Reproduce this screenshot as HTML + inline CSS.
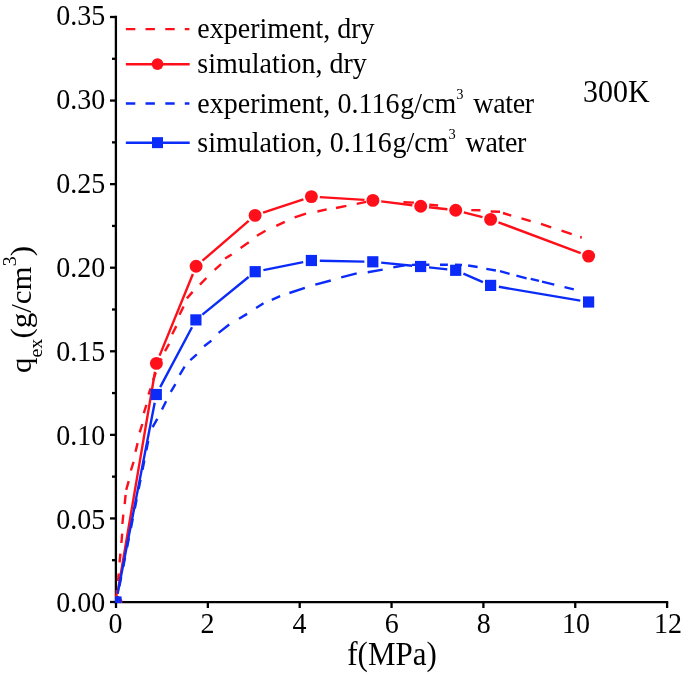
<!DOCTYPE html><html><head><meta charset="utf-8"><title>Excess adsorption 300K</title><style>html,body{margin:0;padding:0;background:#fff}svg{display:block}text{font-family:"Liberation Serif",serif;fill:#000}</style></head><body>
<svg width="683" height="675" viewBox="0 0 683 675">
<rect width="683" height="675" fill="#fff"/>
<defs><clipPath id="plot"><rect x="115" y="10" width="556" height="593"/></clipPath></defs>
<g stroke="#000" stroke-width="2.3" fill="none">
<line x1="115.9" y1="15.85" x2="115.9" y2="603.15"/>
<line x1="114.75" y1="602.05" x2="668.2" y2="602.05" stroke-width="2.2"/>
<line x1="110" y1="602.00" x2="116" y2="602.00"/>
<line x1="112" y1="560.21" x2="116" y2="560.21"/>
<line x1="110" y1="518.43" x2="116" y2="518.43"/>
<line x1="112" y1="476.64" x2="116" y2="476.64"/>
<line x1="110" y1="434.86" x2="116" y2="434.86"/>
<line x1="112" y1="393.07" x2="116" y2="393.07"/>
<line x1="110" y1="351.29" x2="116" y2="351.29"/>
<line x1="112" y1="309.50" x2="116" y2="309.50"/>
<line x1="110" y1="267.71" x2="116" y2="267.71"/>
<line x1="112" y1="225.93" x2="116" y2="225.93"/>
<line x1="110" y1="184.14" x2="116" y2="184.14"/>
<line x1="112" y1="142.36" x2="116" y2="142.36"/>
<line x1="110" y1="100.57" x2="116" y2="100.57"/>
<line x1="112" y1="58.79" x2="116" y2="58.79"/>
<line x1="110" y1="17.00" x2="116" y2="17.00"/>
<line x1="116.00" y1="602" x2="116.00" y2="608"/>
<line x1="207.85" y1="602" x2="207.85" y2="608"/>
<line x1="299.70" y1="602" x2="299.70" y2="608"/>
<line x1="391.55" y1="602" x2="391.55" y2="608"/>
<line x1="483.40" y1="602" x2="483.40" y2="608"/>
<line x1="575.25" y1="602" x2="575.25" y2="608"/>
<line x1="667.10" y1="602" x2="667.10" y2="608"/>
</g>
<text transform="translate(105.20,612.35) scale(1,1.087)" font-size="28" text-anchor="end">0.00</text>
<text transform="translate(105.20,528.51) scale(1,1.087)" font-size="28" text-anchor="end">0.05</text>
<text transform="translate(105.20,444.67) scale(1,1.087)" font-size="28" text-anchor="end">0.10</text>
<text transform="translate(105.20,360.83) scale(1,1.087)" font-size="28" text-anchor="end">0.15</text>
<text transform="translate(105.20,276.99) scale(1,1.087)" font-size="28" text-anchor="end">0.20</text>
<text transform="translate(105.20,193.15) scale(1,1.087)" font-size="28" text-anchor="end">0.25</text>
<text transform="translate(105.20,109.31) scale(1,1.087)" font-size="28" text-anchor="end">0.30</text>
<text transform="translate(105.20,25.47) scale(1,1.087)" font-size="28" text-anchor="end">0.35</text>
<text transform="translate(115.40,633.30) scale(1,1.087)" font-size="28" text-anchor="middle">0</text>
<text transform="translate(207.50,633.30) scale(1,1.087)" font-size="28" text-anchor="middle">2</text>
<text transform="translate(299.60,633.30) scale(1,1.087)" font-size="28" text-anchor="middle">4</text>
<text transform="translate(391.70,633.30) scale(1,1.087)" font-size="28" text-anchor="middle">6</text>
<text transform="translate(483.80,633.30) scale(1,1.087)" font-size="28" text-anchor="middle">8</text>
<text transform="translate(575.90,633.30) scale(1,1.087)" font-size="28" text-anchor="middle">10</text>
<text transform="translate(668.00,633.30) scale(1,1.087)" font-size="28" text-anchor="middle">12</text>
<text transform="translate(392.00,664.90) scale(1,1.087)" font-size="31" text-anchor="middle">f(MPa)</text>
<text transform="translate(31.2,309.5) rotate(-90) scale(1,0.975)" font-size="31" text-anchor="middle">q<tspan font-size="20" dy="11.5">ex</tspan><tspan dy="-11.5" font-size="31">(g/cm</tspan><tspan font-size="20" dy="-15.4">3</tspan><tspan dy="15.4" font-size="31">)</tspan></text>
<text transform="translate(583.00,101.50) scale(1,1.087)" font-size="30" text-anchor="start">300K</text>
<g clip-path="url(#plot)">
<g stroke="#fe0f1a" stroke-width="2.4" fill="none">
<path d="M116.0 602.0L116.9 590.0 M118.0 581.0L118.7 573.5 M119.6 562.3L120.4 553.6 M121.4 543.0L122.2 533.7 M122.4 524.0L123.3 514.7 M124.7 504.1L125.6 494.8 M126.2 489.8L128.7 481.1 M130.9 470.5L133.6 461.8 M135.5 451.8L137.6 443.1 M139.7 432.3L142.3 424.0 M143.8 413.2L146.4 404.9 M148.5 394.5L150.6 388.3 M153.0 380.5L155.8 372.5 M158.5 365.5L161.5 358.5 M165.0 351.2L169.1 343.8 M172.2 334.2L176.3 326.1 M179.5 314.7L183.6 306.5 M186.9 298.4L192.6 291.9 M199.9 284.6L206.4 278.0 M214.6 269.9L221.1 264.2 M225.1 258.5L231.7 254.4 M240.6 247.9L248.8 242.2 M256.9 235.7L265.5 230.8 M276.3 225.8L284.8 221.8 M294.6 217.3L306.0 213.6 M317.4 211.5L326.7 209.4 M336.0 208.0L346.4 205.9 M356.7 203.8L366.1 201.8 M403.4 202.3L413.9 202.6 M429.3 204.8L438.1 205.5 M471.3 210.1L480.5 210.3 M490.7 211.5L500.0 211.8 M503.0 213.0L511.2 215.6 M521.5 218.3L530.7 221.2 M541.0 223.8L551.2 227.3 M561.5 230.6L571.7 234.1 M580.1 237.2L581.9 237.4"/>
</g>
<g stroke="#fe0f1a" stroke-width="2.4" fill="none">
<path d="M117.4 593.7L155.0 371.7 M159.6 355.6L192.9 274.0 M202.5 260.7L248.7 220.9 M263.1 212.7L303.4 199.3 M319.8 197.1L364.5 199.9 M381.2 201.4L412.4 205.3 M429.0 207.2L447.4 209.2 M463.8 212.3L482.5 217.2 M498.5 222.3L580.7 253.2"/>
</g>
<g fill="#fe0f1a" stroke="none">
<circle cx="116.0" cy="602.0" r="6.45"/>
<circle cx="156.4" cy="363.4" r="6.45"/>
<circle cx="196.1" cy="266.2" r="6.45"/>
<circle cx="255.1" cy="215.4" r="6.45"/>
<circle cx="311.4" cy="196.6" r="6.45"/>
<circle cx="372.9" cy="200.4" r="6.45"/>
<circle cx="420.7" cy="206.3" r="6.45"/>
<circle cx="455.7" cy="210.2" r="6.45"/>
<circle cx="490.6" cy="219.4" r="6.45"/>
<circle cx="588.6" cy="256.1" r="6.45"/>
</g>
<g stroke="#0b2cf8" stroke-width="2.4" fill="none">
<path d="M152.6 427.2L157.3 418.9 M162.0 409.5L166.1 401.2 M170.8 391.9L175.4 384.1 M179.7 374.8L184.6 366.6 M190.3 360.1L196.8 354.4 M204.1 346.3L211.4 340.6 M218.6 332.9L229.2 324.5 M239.0 318.8L247.1 313.9 M256.1 308.0L263.5 303.3 M271.8 299.8L280.1 296.1 M289.4 293.0L304.9 287.8 M315.3 284.7L330.8 280.5 M341.2 277.4L356.7 273.3 M367.7 272.2L382.7 269.6 M393.3 267.4L404.7 265.2 M412.0 264.9L418.0 264.7 M425.9 264.7L429.4 264.7 M440.0 264.7L447.9 264.7 M455.0 264.7L462.0 265.0 M468.1 265.5L477.6 267.0 M486.3 268.9L495.9 270.5 M500.0 271.2L509.6 273.8 M516.4 275.6L526.6 278.3 M530.7 278.8L539.0 280.8 M542.0 281.6L554.3 284.6 M564.5 287.1L573.8 289.4"/>
</g>
<path d="M148.2 441L116.25 602" stroke="#0b2cf8" stroke-width="2.4" stroke-dasharray="9.4 10.4" fill="none"/>
<g stroke="#0b2cf8" stroke-width="2.4" fill="none">
<path d="M117.6 593.8L154.7 402.7 M160.2 387.1L192.0 327.3 M202.4 314.6L248.6 277.0 M263.4 270.1L303.2 262.1 M319.8 260.7L364.4 261.6 M381.2 262.6L412.2 265.7 M429.0 267.4L447.3 269.4 M463.4 273.6L482.9 282.1 M498.9 286.8L580.3 300.6"/>
</g>
<g fill="#0b2cf8" stroke="none">
<rect x="110.4" y="596.4" width="11.2" height="11.2"/>
<rect x="150.7" y="388.9" width="11.2" height="11.2"/>
<rect x="190.3" y="314.3" width="11.2" height="11.2"/>
<rect x="249.6" y="266.1" width="11.2" height="11.2"/>
<rect x="305.8" y="254.9" width="11.2" height="11.2"/>
<rect x="367.2" y="256.2" width="11.2" height="11.2"/>
<rect x="415.0" y="260.9" width="11.2" height="11.2"/>
<rect x="450.1" y="264.7" width="11.2" height="11.2"/>
<rect x="485.0" y="279.8" width="11.2" height="11.2"/>
<rect x="583.0" y="296.4" width="11.2" height="11.2"/>
</g>
</g>
<path stroke="#fe0f1a" stroke-width="2.4" fill="none" d="M125.85 29.1H135.3M145.5 29.1H154.9M165.3 29.1H174.7M184.8 29.1H189.4"/>
<text transform="translate(197.30,37.70) scale(1,1.035)" font-size="28" text-anchor="start">experiment, dry</text>
<path stroke="#fe0f1a" stroke-width="2.4" fill="none" d="M125.85 64.2H189.7"/>
<circle cx="157.5" cy="64.10000000000001" r="5.9" fill="#fe0f1a"/>
<text transform="translate(197.30,73.40) scale(1,1.035)" font-size="28" text-anchor="start">simulation, dry</text>
<path stroke="#0b2cf8" stroke-width="2.4" fill="none" d="M125.85 103.5H135.3M145.5 103.5H154.9M165.3 103.5H174.7M184.8 103.5H189.4"/>
<text transform="translate(197.30,113.00) scale(1,1.035)" font-size="28" text-anchor="start">experiment, </text>
<text transform="translate(337.50,113.00) scale(1,1.087)" font-size="28" text-anchor="start">0.116</text>
<text transform="translate(400.20,113.00) scale(1,1.035)" font-size="28" text-anchor="start">g/cm<tspan font-size="14.5" dy="-13.3">3</tspan><tspan dy="13.3" dx="3.2" letter-spacing="-0.35"> water</tspan></text>
<path stroke="#0b2cf8" stroke-width="2.4" fill="none" d="M125.85 142.8H189.7"/>
<rect x="152.0" y="137.15" width="11" height="11" fill="#0b2cf8"/>
<text transform="translate(197.30,152.30) scale(1,1.035)" font-size="28" text-anchor="start">simulation, </text>
<text transform="translate(329.80,152.30) scale(1,1.087)" font-size="28" text-anchor="start">0.116</text>
<text transform="translate(392.50,152.30) scale(1,1.035)" font-size="28" text-anchor="start">g/cm<tspan font-size="14.5" dy="-13.3">3</tspan><tspan dy="13.3" dx="3.2" letter-spacing="-0.35"> water</tspan></text>
</svg></body></html>
